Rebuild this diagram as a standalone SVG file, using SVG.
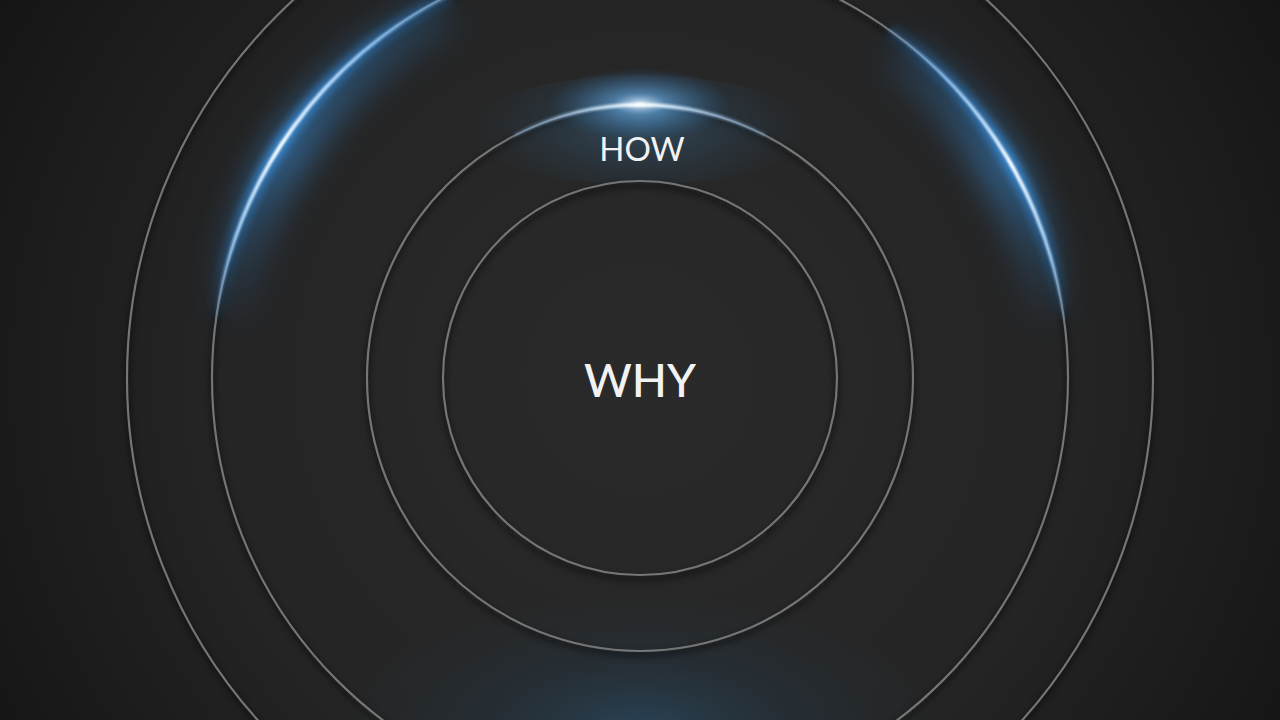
<svg xmlns="http://www.w3.org/2000/svg" width="1280" height="720" viewBox="0 0 1280 720">
  <defs>
    <radialGradient id="bg" cx="640" cy="378" r="760" gradientUnits="userSpaceOnUse">
      <stop offset="0" stop-color="#2a2a2a"/>
      <stop offset="0.55" stop-color="#252525"/>
      <stop offset="0.8" stop-color="#1c1c1c"/>
      <stop offset="1" stop-color="#141414"/>
    </radialGradient>
    <radialGradient id="bottomHaze" cx="640" cy="730" r="300" gradientTransform="translate(0 730) scale(1 0.45) translate(0 -730)" gradientUnits="userSpaceOnUse">
      <stop offset="0" stop-color="#2c5c80" stop-opacity="0.55"/>
      <stop offset="0.5" stop-color="#24445c" stop-opacity="0.25"/>
      <stop offset="1" stop-color="#24445c" stop-opacity="0"/>
    </radialGradient>
    <radialGradient id="topHalo" cx="640" cy="104" r="90" gradientTransform="translate(0 104) scale(1 0.4) translate(0 -104)" gradientUnits="userSpaceOnUse">
      <stop offset="0" stop-color="#e6f4ff" stop-opacity="0.95"/>
      <stop offset="0.3" stop-color="#6ab2ee" stop-opacity="0.55"/>
      <stop offset="1" stop-color="#2d6da8" stop-opacity="0"/>
    </radialGradient>
    <radialGradient id="topInner" cx="640" cy="125" r="170" gradientTransform="translate(0 125) scale(1 0.45) translate(0 -125)" gradientUnits="userSpaceOnUse">
      <stop offset="0" stop-color="#3a6d94" stop-opacity="0.5"/>
      <stop offset="1" stop-color="#2a4c66" stop-opacity="0"/>
    </radialGradient>
    <linearGradient id="gl" x1="215" y1="325" x2="450" y2="-5" gradientUnits="userSpaceOnUse">
      <stop offset="0" stop-color="#8fc8ff" stop-opacity="0"/>
      <stop offset="0.2" stop-color="#a8d6ff" stop-opacity="0.75"/>
      <stop offset="0.45" stop-color="#ffffff" stop-opacity="1"/>
      <stop offset="0.75" stop-color="#a8d6ff" stop-opacity="0.75"/>
      <stop offset="1" stop-color="#8fc8ff" stop-opacity="0.25"/>
    </linearGradient>
    <linearGradient id="glb" x1="215" y1="325" x2="450" y2="-5" gradientUnits="userSpaceOnUse">
      <stop offset="0" stop-color="#2f86d6" stop-opacity="0"/>
      <stop offset="0.45" stop-color="#3d96e6" stop-opacity="1"/>
      <stop offset="1" stop-color="#2f86d6" stop-opacity="0.3"/>
    </linearGradient>
    <linearGradient id="gr" x1="1065" y1="325" x2="895" y2="40" gradientUnits="userSpaceOnUse">
      <stop offset="0" stop-color="#8fc8ff" stop-opacity="0"/>
      <stop offset="0.2" stop-color="#a8d6ff" stop-opacity="0.75"/>
      <stop offset="0.5" stop-color="#ffffff" stop-opacity="1"/>
      <stop offset="0.8" stop-color="#a8d6ff" stop-opacity="0.65"/>
      <stop offset="1" stop-color="#8fc8ff" stop-opacity="0.2"/>
    </linearGradient>
    <linearGradient id="grb" x1="1065" y1="325" x2="895" y2="40" gradientUnits="userSpaceOnUse">
      <stop offset="0" stop-color="#2f86d6" stop-opacity="0"/>
      <stop offset="0.5" stop-color="#3d96e6" stop-opacity="1"/>
      <stop offset="1" stop-color="#2f86d6" stop-opacity="0.25"/>
    </linearGradient>
    <linearGradient id="gt" x1="520" y1="0" x2="760" y2="0" gradientUnits="userSpaceOnUse">
      <stop offset="0" stop-color="#8fc8ff" stop-opacity="0.25"/>
      <stop offset="0.5" stop-color="#ffffff" stop-opacity="1"/>
      <stop offset="1" stop-color="#8fc8ff" stop-opacity="0.25"/>
    </linearGradient>
    <filter id="blurBig" x="-50%" y="-50%" width="200%" height="200%">
      <feGaussianBlur stdDeviation="16"/>
    </filter>
    <filter id="blurMid" x="-50%" y="-50%" width="200%" height="200%">
      <feGaussianBlur stdDeviation="5"/>
    </filter>
    <filter id="blurSmall" x="-50%" y="-50%" width="200%" height="200%">
      <feGaussianBlur stdDeviation="0.9"/>
    </filter>
    <filter id="shadow" x="-20%" y="-20%" width="140%" height="140%">
      <feGaussianBlur stdDeviation="3"/>
    </filter>
  </defs>
  <style>
    .ring { fill: none; stroke: #757575; stroke-width: 2.2; }
    .ringShadow { fill: none; stroke: #0c0c0c; stroke-width: 4; opacity: 0.55; filter: url(#shadow); }
    .label { fill: #f2f2f2; font-family: Lato, "Open Sans", "Liberation Sans", sans-serif; text-anchor: middle; }
  </style>

  <rect width="1280" height="720" fill="url(#bg)"/>
  <rect x="200" y="560" width="880" height="160" fill="url(#bottomHaze)"/>

  <g id="ring-outer">
    <circle class="ringShadow" cx="640" cy="381" r="513"/>
    <circle class="ring" cx="640" cy="378" r="513" stroke="#636363"/>
  </g>

  <g id="ring-what">
    <circle class="ringShadow" cx="640" cy="381" r="428"/>
    <circle class="ring" cx="640" cy="378" r="428"/>
    <!-- left glow -->
    <path d="M 226 321 A 418 418 0 0 1 444 9" fill="none" stroke="url(#glb)" stroke-width="44" opacity="0.5" filter="url(#blurBig)"/>
    <path d="M 216 317 A 428 428 0 0 1 450 -5" fill="none" stroke="url(#glb)" stroke-width="13" opacity="0.95" filter="url(#blurMid)"/>
    <path d="M 216 317 A 428 428 0 0 1 450 -5" fill="none" stroke="url(#gl)" stroke-width="4" filter="url(#blurSmall)"/>
    <!-- right glow -->
    <path d="M 897 49 A 418 418 0 0 1 1054 321" fill="none" stroke="url(#grb)" stroke-width="44" opacity="0.5" filter="url(#blurBig)"/>
    <path d="M 890 30 A 428 428 0 0 1 1064 320" fill="none" stroke="url(#grb)" stroke-width="13" opacity="0.95" filter="url(#blurMid)"/>
    <path d="M 890 30 A 428 428 0 0 1 1064 320" fill="none" stroke="url(#gr)" stroke-width="4" filter="url(#blurSmall)"/>
  </g>

  <g id="ring-how">
    <circle class="ringShadow" cx="640" cy="381" r="273"/>
    <circle class="ring" cx="640" cy="378" r="273"/>
    <ellipse cx="640" cy="130" rx="170" ry="55" fill="url(#topInner)"/>
    <ellipse cx="640" cy="104" rx="90" ry="36" fill="url(#topHalo)"/>
    <path d="M 515 135 A 273 273 0 0 1 765 135" fill="none" stroke="url(#gt)" stroke-width="4" filter="url(#blurSmall)"/>
    <text class="label" x="642" y="161" font-size="33" font-weight="400">HOW</text>
  </g>

  <g id="ring-why">
    <circle class="ringShadow" cx="640" cy="382" r="197"/>
    <circle class="ring" cx="640" cy="378" r="197"/>
    <text class="label" x="640" y="397" font-size="46" font-weight="500">WHY</text>
  </g>

  <g id="connectors"/>
</svg>
